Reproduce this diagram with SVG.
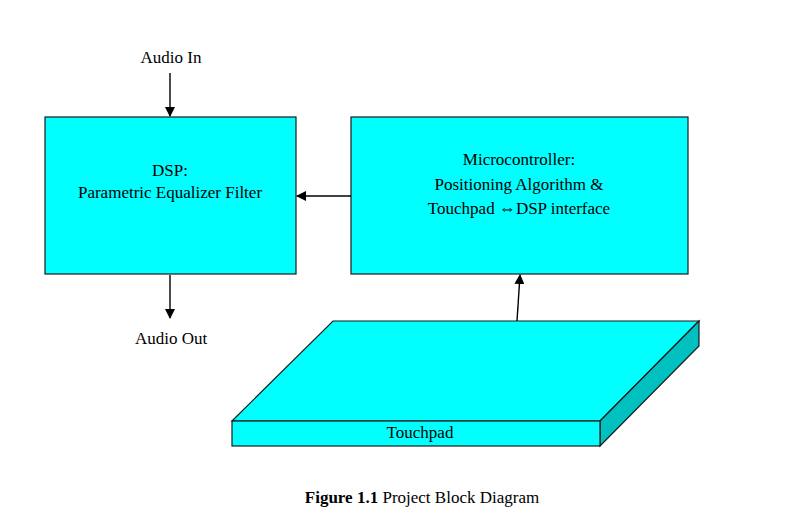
<svg xmlns="http://www.w3.org/2000/svg" width="800" height="530" viewBox="0 0 800 530">
<style>
.b{fill:#00ffff;stroke:#1a1a1a;stroke-width:1.2}
.t{font-family:"Liberation Serif",serif;font-size:17px;fill:#000;text-anchor:middle}
.c{stroke:#000;stroke-width:1.4;fill:none;marker-end:url(#a)}
</style>
<defs><marker id="a" markerWidth="10" markerHeight="10" refX="9" refY="5" orient="auto" markerUnits="userSpaceOnUse"><path d="M0,0L10,5L0,10z" fill="#000"/></marker></defs>
<rect width="800" height="530" fill="#fff"/>
<g id="dsp"><rect class="b" x="45" y="117" width="251" height="157"/>
<text class="t" x="170" y="176">DSP:</text><text class="t" x="170" y="198">Parametric Equalizer Filter</text></g>
<g id="mc"><rect class="b" x="351" y="117" width="337" height="157"/>
<text class="t" x="519" y="165">Microcontroller:</text><text class="t" x="519" y="190">Positioning Algorithm &amp;</text><text class="t" x="519" y="214">Touchpad ⇔DSP interface</text></g>
<g id="touchpad">
<polygon class="b" points="333,321 699,321 600,421 232,421"/>
<polygon points="600,421 699,321 699,346 600,446" fill="#00c0c0" stroke="#1a1a1a" stroke-width="1.2"/>
<rect class="b" x="232" y="421" width="368" height="25"/>
<text class="t" x="420" y="438">Touchpad</text></g>
<g id="labels">
<text class="t" x="171" y="63">Audio In</text>
<text class="t" x="171" y="344">Audio Out</text>
<text class="t" x="422" y="503" font-size="16"><tspan font-weight="bold">Figure 1.1</tspan> Project Block Diagram</text></g>
<g id="connectors">
<line class="c" x1="170" y1="73" x2="170" y2="116"/>
<line class="c" x1="170" y1="275" x2="170" y2="318"/>
<line class="c" x1="351" y1="196" x2="297" y2="196"/>
<line class="c" x1="517" y1="321" x2="520" y2="275"/>
</g>
</svg>
